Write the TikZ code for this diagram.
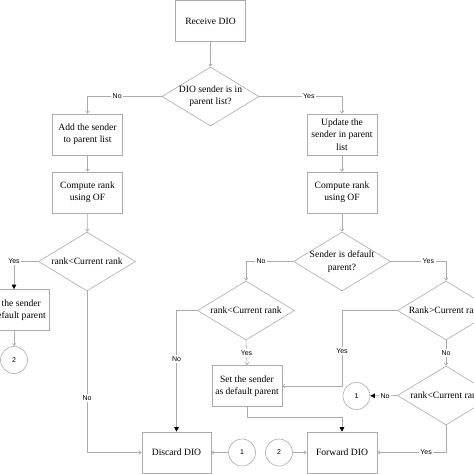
\documentclass[tikz,border=0pt]{standalone}
\usepackage{fontspec}
\setmainfont{Liberation Serif}
\newfontfamily\labelfont{Liberation Sans}
\usetikzlibrary{shapes.geometric,arrows.meta}
\definecolor{linegray}{HTML}{ABABAB}
\begin{document}
\begin{tikzpicture}[
  x=1pt, y=-1pt,
  box/.style={rectangle, draw=linegray, line width=0.6pt, minimum width=70pt, minimum height=41pt, inner sep=2pt, align=center, font=\fontsize{9.6}{12.3}\selectfont},
  decision/.style={diamond, draw=linegray, line width=0.6pt, aspect=1.64, minimum width=97pt, minimum height=59pt, inner sep=-3pt, align=center, font=\fontsize{9.6}{12.3}\selectfont},
  circ/.style={circle, draw=linegray, line width=0.6pt, minimum size=27pt, inner sep=0pt, font=\labelfont\fontsize{7}{8}\selectfont},
  lbl/.style={fill=white, inner sep=1.5pt, font=\labelfont\fontsize{7}{8}\selectfont},
  conn/.style={draw=linegray, line width=0.6pt, -{Straight Barb[length=2.5pt,width=4pt]}},
  connB/.style={draw=linegray, line width=0.6pt, -{Triangle[black,length=4.5pt,width=4.5pt]}}
]
\useasboundingbox (0,0) rectangle (474,474);
\clip (0,0) rectangle (474,474);
\node[box] (recv) at (210.5,21) {Receive DIO};
\node[decision] (inlist) at (210.5,96.5) {DIO sender is in\\parent list?};
\node[box] (add) at (87.5,134.5) {Add the sender\\to parent list};
\node[box] (rankL) at (87.5,192.5) {Compute rank\\using OF};
\node[box] (update) at (342,134.5) {Update the\\sender in parent\\list};
\node[box] (rankR) at (342,192.5) {Compute rank\\using OF};
\node[decision] (ltL) at (87,261.5) {rank<Current rank};
\node[box] (setL) at (14,310) {Set the sender\\as default parent};
\node[circ] (c2L) at (14,360) {2};
\node[decision] (isdef) at (342,261.5) {Sender is default\\parent?};
\node[decision] (ltM) at (246,310.5) {rank<Current rank};
\node[decision] (gtR) at (446,310.5) {Rank>Current rank};
\node[box] (setM) at (247,386) {Set the sender\\as default parent};
\node[decision] (ltR) at (446,395.5) {rank<Current rank};
\node[circ] (c1R) at (356.5,396) {1};
\node[box, minimum width=69pt] (discard) at (176.5,452.5) {Discard DIO};
\node[box] (fwd) at (342,452.5) {Forward DIO};
\node[circ] (c1B) at (242,452.5) {1};
\node[circ] (c2B) at (279,452.5) {2};

\draw[conn] (recv) -- (inlist);
\draw[conn] (inlist.west) -| node[lbl, pos=0.3] {No} (add.north);
\draw[conn] (inlist.east) -| node[lbl, pos=0.3] {Yes} (update.north);
\draw[conn] (add) -- (rankL);
\draw[conn] (update) -- (rankR);
\draw[conn] (rankL) -- (ltL);
\draw[conn] (rankR) -- (isdef);
\draw[connB] (ltL.west) -| node[lbl, pos=0.5] {Yes} (setL.north);
\draw[conn] (setL) -- (c2L);
\draw[conn] (ltL.south) |- node[lbl, pos=0.33] {No} (discard.west);
\draw[conn] (isdef.west) -| node[lbl, pos=0.34] {No} (ltM.north);
\draw[conn] (isdef.east) -| node[lbl, pos=0.34] {Yes} (gtR.north);
\draw[connB] (ltM.west) -| node[lbl, pos=0.7] {No} (discard.north);
\draw[conn] (ltM.south) -- node[lbl] {Yes} (setM.north);
\draw[connB] (setM.south) -- ++(0,10) -| (fwd.north);
\draw[conn] (gtR.west) -| node[lbl, pos=0.77] {Yes} (fwd |- setM.east) -- (setM.east);
\draw[conn] (gtR.south) -- node[lbl] {No} (ltR.north);
\draw[connB] (ltR.west) -- node[lbl, pos=0.45] {No} (c1R);
\draw[conn] (ltR.south) |- node[lbl, pos=0.645] {Yes} (fwd.east);
\draw[conn] (c1B) -- (discard.east);
\draw[conn] (c2B) -- (fwd.west);
\end{tikzpicture}
\end{document}
